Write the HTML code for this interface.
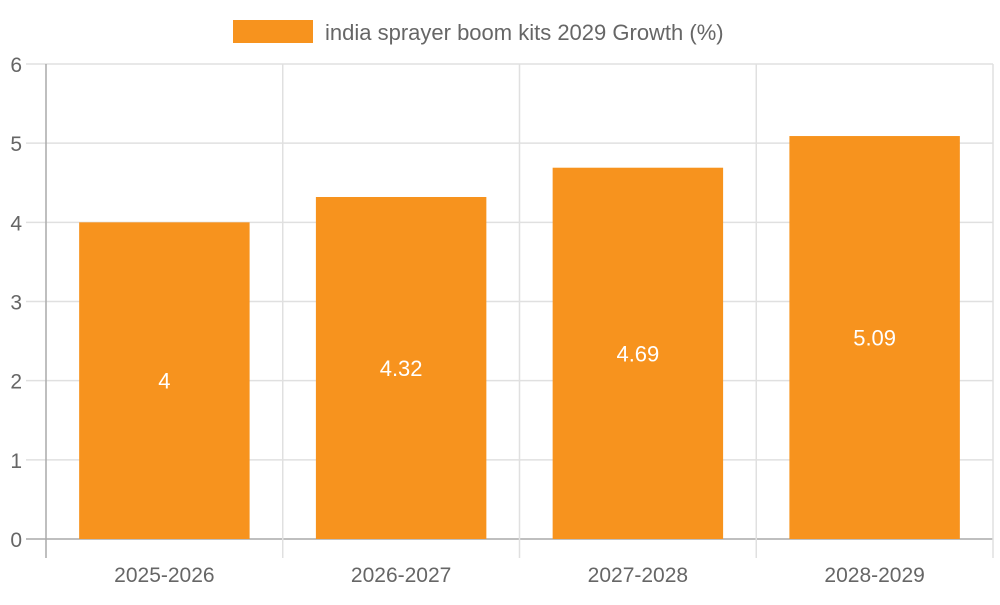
<!DOCTYPE html>
<html><head><meta charset="utf-8"><style>
body{margin:0;background:#fff}
svg text{font-family:"Liberation Sans",sans-serif}
</style></head><body>
<svg id="c" width="1000" height="600">
<rect x="233" y="20" width="80" height="23" fill="#f7931e"/>
<text x="325" y="40" font-size="22" fill="#666">india sprayer boom kits 2029 Growth (%)</text>
<g id="g"></g>
</svg>
<script>
const categories=["2025-2026","2026-2027","2027-2028","2028-2029"];
const values=[4,4.32,4.69,5.09];
const yTicks=[0,1,2,3,4,5,6];
const X0=46,X1=993,Y0=539,Y1=64,YMAX=6;
const ns="http://www.w3.org/2000/svg";
const g=document.getElementById('g');
const y=v=>Y0-(Y0-Y1)*v/YMAX;
const cw=(X1-X0)/categories.length;
const x=i=>X0+cw*i;
function mk(t,a){const e=document.createElementNS(ns,t);for(const k in a)e.setAttribute(k,a[k]);g.appendChild(e);return e;}
yTicks.forEach(t=>{
 const l=mk('line',{x1:26,x2:X1,y1:y(t),y2:y(t),stroke:t===0?'#aaa':'#e0e0e0','stroke-width':1.5});
 
 
 const tx=mk('text',{x:22,y:y(t)+8,'text-anchor':'end','font-size':21,fill:'#666'});
 tx.textContent=t;
 
 
});
for(let i=0;i<=categories.length;i++){
 const l=mk('line',{x1:x(i),x2:x(i),y1:Y1,y2:558,stroke:i===0?'#aaa':'#e0e0e0','stroke-width':1.5});
 
 
}
categories.forEach((c,i)=>{
 const bw=cw*0.72,bx=x(i)+(cw-bw)/2;
 const r=mk('rect',{x:bx,y:y(values[i]),width:bw,height:Y0-y(values[i]),fill:'#f7931e'});
 
 
 const v=mk('text',{x:x(i)+cw/2,y:(y(values[i])+Y0)/2+8,'text-anchor':'middle','font-size':22,fill:'#fff'});
 v.textContent=values[i];
 
 
 const t=mk('text',{x:x(i)+cw/2,y:582,'text-anchor':'middle','font-size':21,fill:'#666'});
 t.textContent=c;
 
 
});
</script>
</body></html>
